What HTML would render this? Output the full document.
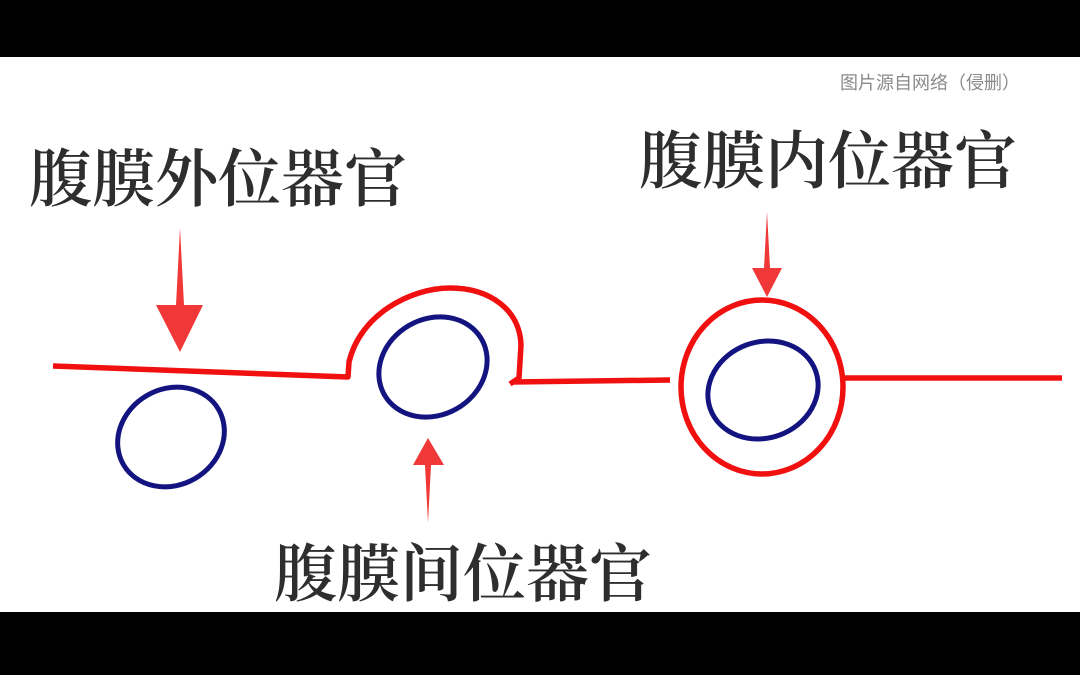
<!DOCTYPE html>
<html><head><meta charset="utf-8"><style>
html,body{margin:0;padding:0;background:#fff;}
svg{display:block;}
.t{font-family:"Noto Serif CJK SC","Noto Sans CJK SC",serif;font-size:63px;font-weight:600;fill:#2e2e2e;}
.w{font-family:"Liberation Sans","Noto Sans CJK SC",sans-serif;font-size:18px;fill:#8a8a8a;}
</style></head><body>
<svg width="1080" height="675" viewBox="0 0 1080 675" xmlns="http://www.w3.org/2000/svg">
<rect x="0" y="0" width="1080" height="675" fill="#fff"/>
<rect x="0" y="0" width="1080" height="57" fill="#000"/>
<rect x="0" y="612" width="1080" height="63" fill="#000"/>
<text class="w" x="840" y="89">图片源自网络（侵删）</text>
<text class="t" x="29" y="201">腹膜外位器官</text>
<text class="t" x="639" y="183">腹膜内位器官</text>
<text class="t" x="274" y="596">腹膜间位器官</text>
<g fill="none" stroke="#f01010" stroke-width="5.5" stroke-linejoin="round">
<path d="M53 366 L348 377 L349 362 C360 315 410 288 450 288 C490 288 520 310 521 345 L519 378 L510 384"/>
<path d="M512 382 L670 380"/>
<ellipse cx="762" cy="387" rx="81" ry="87"/>
<path d="M843 378 L1062 378"/>
</g>
<g fill="none" stroke="#141480" stroke-width="5">
<ellipse cx="171" cy="437" rx="55" ry="48" transform="rotate(-30 171 437)"/>
<ellipse cx="433" cy="367" rx="56" ry="48" transform="rotate(-30 433 367)"/>
<ellipse cx="763" cy="390" rx="56" ry="48" transform="rotate(-20 763 390)"/>
</g>
<g fill="#f03838">
<path d="M180 228 L184 305 L203 305 L180 352 L156 305 L176 305 Z"/>
<path d="M767 212 L770 268 L782 268 L767 297 L752 268 L764 268 Z"/>
<path d="M428 438 L444 465 L431 465 L428 523 L425 465 L413 465 Z"/>
</g>
</svg>
</body></html>
